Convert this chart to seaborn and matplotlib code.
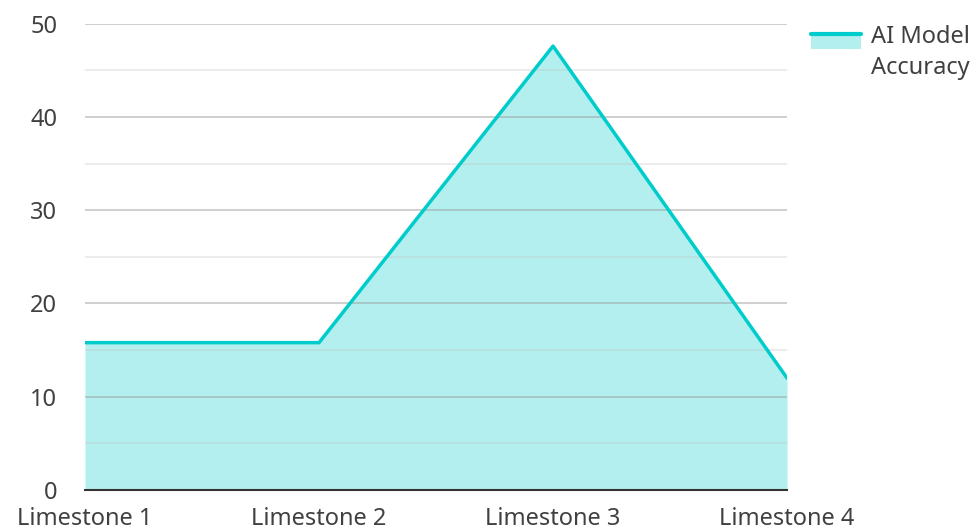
import numpy as np
import pandas as pd
import matplotlib
matplotlib.use("Agg")
import matplotlib.pyplot as plt
import seaborn as sns
from matplotlib.patches import Rectangle
from matplotlib.lines import Line2D
from matplotlib.legend_handler import HandlerBase

# dados do gráfico
categories = ["Limestone 1", "Limestone 2", "Limestone 3", "Limestone 4"]
accuracy = [15.8, 15.8, 47.6, 12.0]
series_name = "AI Model\nAccuracy"

df = pd.DataFrame({"cat": categories, "val": accuracy})
df["x"] = np.arange(len(categories))

sns.set_theme(style="white")
plt.rcParams["font.family"] = ["Noto Sans", "DejaVu Sans"]

line_color = "#00CCCC"
fill_color = "#B2EFEE"
text_color = "#404040"


class FillLineHandler(HandlerBase):
    # área preenchida com a linha na borda superior, alinhada à primeira linha do texto
    def create_artists(self, legend, orig_handle, xdescent, ydescent,
                       width, height, fontsize, trans):
        x0 = -xdescent
        y0 = -ydescent + 0.48 * fontsize
        rect = Rectangle((x0, y0), width, height, facecolor=fill_color,
                         edgecolor="none", transform=trans)
        line = Line2D([x0, x0 + width], [y0 + height, y0 + height], color=line_color,
                      lw=3, transform=trans)
        return [rect, line]


fig = plt.figure(figsize=(9.76, 5.31), dpi=100)
ax = fig.add_axes([0.0871, 0.0772, 0.8064 - 0.0871, 0.9554 - 0.0772])

area = ax.fill_between(df["x"], df["val"], 0, color=fill_color, lw=0, zorder=1)
sns.lineplot(data=df, x="x", y="val", color=line_color, lw=2.5, ax=ax, zorder=3)

# grade principal e secundária
for v in range(0, 51, 10):
    ax.axhline(v, color="#9a9a9a", lw=1.2, alpha=0.55, zorder=2)
for v in range(5, 50, 10):
    ax.axhline(v, color="#c0c0c0", lw=1.2, alpha=0.35, zorder=2)

ax.set_xlim(0, len(categories) - 1)
ax.set_ylim(0, 50)
ax.set_xticks(df["x"])
ax.set_xticklabels(categories)
ax.set_yticks(range(0, 51, 10))
ax.tick_params(axis="both", labelsize=17, colors=text_color, length=0)
ax.tick_params(axis="y", pad=20)
ax.tick_params(axis="x", pad=12)
ax.set_xlabel("")
ax.set_ylabel("")

for s in ["top", "right", "left"]:
    ax.spines[s].set_visible(False)
ax.spines["bottom"].set_color("#333333")
ax.spines["bottom"].set_linewidth(1.5)
ax.spines["bottom"].set_zorder(4)

leg = fig.legend([area], [series_name], handler_map={type(area): FillLineHandler()},
                 loc="upper left", bbox_to_anchor=(0.831, 0.952), frameon=False,
                 fontsize=17, handlelength=2.12, handleheight=0.6,
                 handletextpad=0.42, borderaxespad=0, borderpad=0)
for t in leg.get_texts():
    t.set_color(text_color)
    t.set_linespacing(1.35)

fig.savefig("out.png", dpi=100)
